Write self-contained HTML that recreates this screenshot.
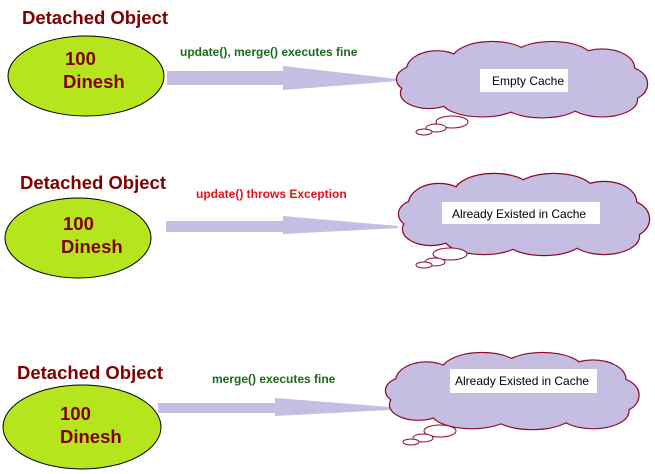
<!DOCTYPE html>
<html><head><meta charset="utf-8"><style>
html,body{margin:0;padding:0;background:#fff;width:655px;height:474px;overflow:hidden}
svg{display:block}
.t{font-family:"Liberation Sans",sans-serif;font-weight:bold}
</style></head><body>
<svg width="655" height="474" viewBox="0 0 655 474">
<defs>
<g id="cl">
 <g fill="none" stroke="#8b0a2a" stroke-width="2.4">
  <ellipse cx="40" cy="30" rx="30" ry="20"/><ellipse cx="95" cy="20" rx="40" ry="20"/>
  <ellipse cx="155" cy="18" rx="40" ry="18"/><ellipse cx="205" cy="28" rx="32" ry="20"/>
  <ellipse cx="228" cy="45" rx="22" ry="18"/><ellipse cx="205" cy="62" rx="35" ry="18"/>
  <ellipse cx="145" cy="64" rx="40" ry="17"/><ellipse cx="85" cy="63" rx="40" ry="17"/>
  <ellipse cx="32" cy="55" rx="28" ry="16"/><ellipse cx="20" cy="40" rx="20" ry="14"/>
 </g>
 <g fill="#c5bde2">
  <ellipse cx="40" cy="30" rx="30" ry="20"/><ellipse cx="95" cy="20" rx="40" ry="20"/>
  <ellipse cx="155" cy="18" rx="40" ry="18"/><ellipse cx="205" cy="28" rx="32" ry="20"/>
  <ellipse cx="228" cy="45" rx="22" ry="18"/><ellipse cx="205" cy="62" rx="35" ry="18"/>
  <ellipse cx="145" cy="64" rx="40" ry="17"/><ellipse cx="85" cy="63" rx="40" ry="17"/>
  <ellipse cx="32" cy="55" rx="28" ry="16"/><ellipse cx="20" cy="40" rx="20" ry="14"/>
  <ellipse cx="125" cy="42" rx="100" ry="28"/>
 </g>
</g>
</defs>

<!-- Section 1 -->
<text class="t" x="22" y="24" font-size="18.5" fill="#800000">Detached Object</text>
<ellipse cx="86" cy="76" rx="78" ry="40" fill="#b5e61d" stroke="#000" stroke-width="1"/>
<text class="t" x="65" y="65" font-size="18.5" fill="#800000">100</text>
<text class="t" x="63" y="88" font-size="18.5" fill="#800000">Dinesh</text>
<polygon points="167,71 283,71 283,66 398,79 398,81 283,90 283,85 167,85" fill="#c5bde2"/>
<text class="t" x="180" y="56" font-size="12" fill="#1a6b1a">update(), merge() executes fine</text>
<g transform="translate(397,42) scale(1,0.93)"><use href="#cl"/></g>
<rect x="480" y="69" width="88" height="23" fill="#fff"/>
<text x="492" y="85" font-family="Liberation Sans,sans-serif" font-size="12" fill="#000">Empty Cache</text>
<ellipse cx="452" cy="122" rx="16" ry="6" fill="#fff" stroke="#8b0a2a"/>
<ellipse cx="436" cy="128" rx="10" ry="4" fill="#fff" stroke="#8b0a2a"/>
<ellipse cx="424" cy="132" rx="8" ry="3" fill="#fff" stroke="#8b0a2a"/>

<!-- Section 2 -->
<text class="t" x="20" y="189" font-size="18.5" fill="#800000">Detached Object</text>
<ellipse cx="78" cy="238" rx="73" ry="40" fill="#b5e61d" stroke="#000" stroke-width="1"/>
<text class="t" x="63" y="230" font-size="18.5" fill="#800000">100</text>
<text class="t" x="61" y="253" font-size="18.5" fill="#800000">Dinesh</text>
<polygon points="166,221 283,221 283,216 398,226 398,228 283,234 283,232 166,232" fill="#c5bde2"/>
<text class="t" x="196" y="198" font-size="12" fill="#e0141e">update() throws Exception</text>
<g transform="translate(399,174)"><use href="#cl"/></g>
<rect x="442" y="202" width="158" height="22" fill="#fff"/>
<text x="452" y="218" font-family="Liberation Sans,sans-serif" font-size="12" fill="#000">Already Existed in Cache</text>
<ellipse cx="450" cy="254" rx="17" ry="6" fill="#fff" stroke="#8b0a2a"/>
<ellipse cx="435" cy="262" rx="10" ry="4" fill="#fff" stroke="#8b0a2a"/>
<ellipse cx="424" cy="265" rx="8" ry="3" fill="#fff" stroke="#8b0a2a"/>

<!-- Section 3 -->
<text class="t" x="17" y="379" font-size="18.5" fill="#800000">Detached Object</text>
<ellipse cx="82" cy="427" rx="79" ry="42" fill="#b5e61d" stroke="#000" stroke-width="1"/>
<text class="t" x="60" y="420" font-size="18.5" fill="#800000">100</text>
<text class="t" x="60" y="443" font-size="18.5" fill="#800000">Dinesh</text>
<polygon points="158,403 275,403 275,398 390,407 390,410 275,416 275,413 158,413" fill="#c5bde2"/>
<text class="t" x="212" y="383" font-size="12" fill="#1a6b1a">merge() executes fine</text>
<g transform="translate(386,353) scale(1.01,0.94)"><use href="#cl"/></g>
<rect x="450" y="369" width="147" height="24" fill="#fff"/>
<text x="455" y="385" font-family="Liberation Sans,sans-serif" font-size="12" fill="#000">Already Existed in Cache</text>
<ellipse cx="440" cy="431" rx="16" ry="6" fill="#fff" stroke="#8b0a2a"/>
<ellipse cx="423" cy="438" rx="10" ry="4" fill="#fff" stroke="#8b0a2a"/>
<ellipse cx="411" cy="442" rx="8" ry="3" fill="#fff" stroke="#8b0a2a"/>
</svg>
</body></html>
